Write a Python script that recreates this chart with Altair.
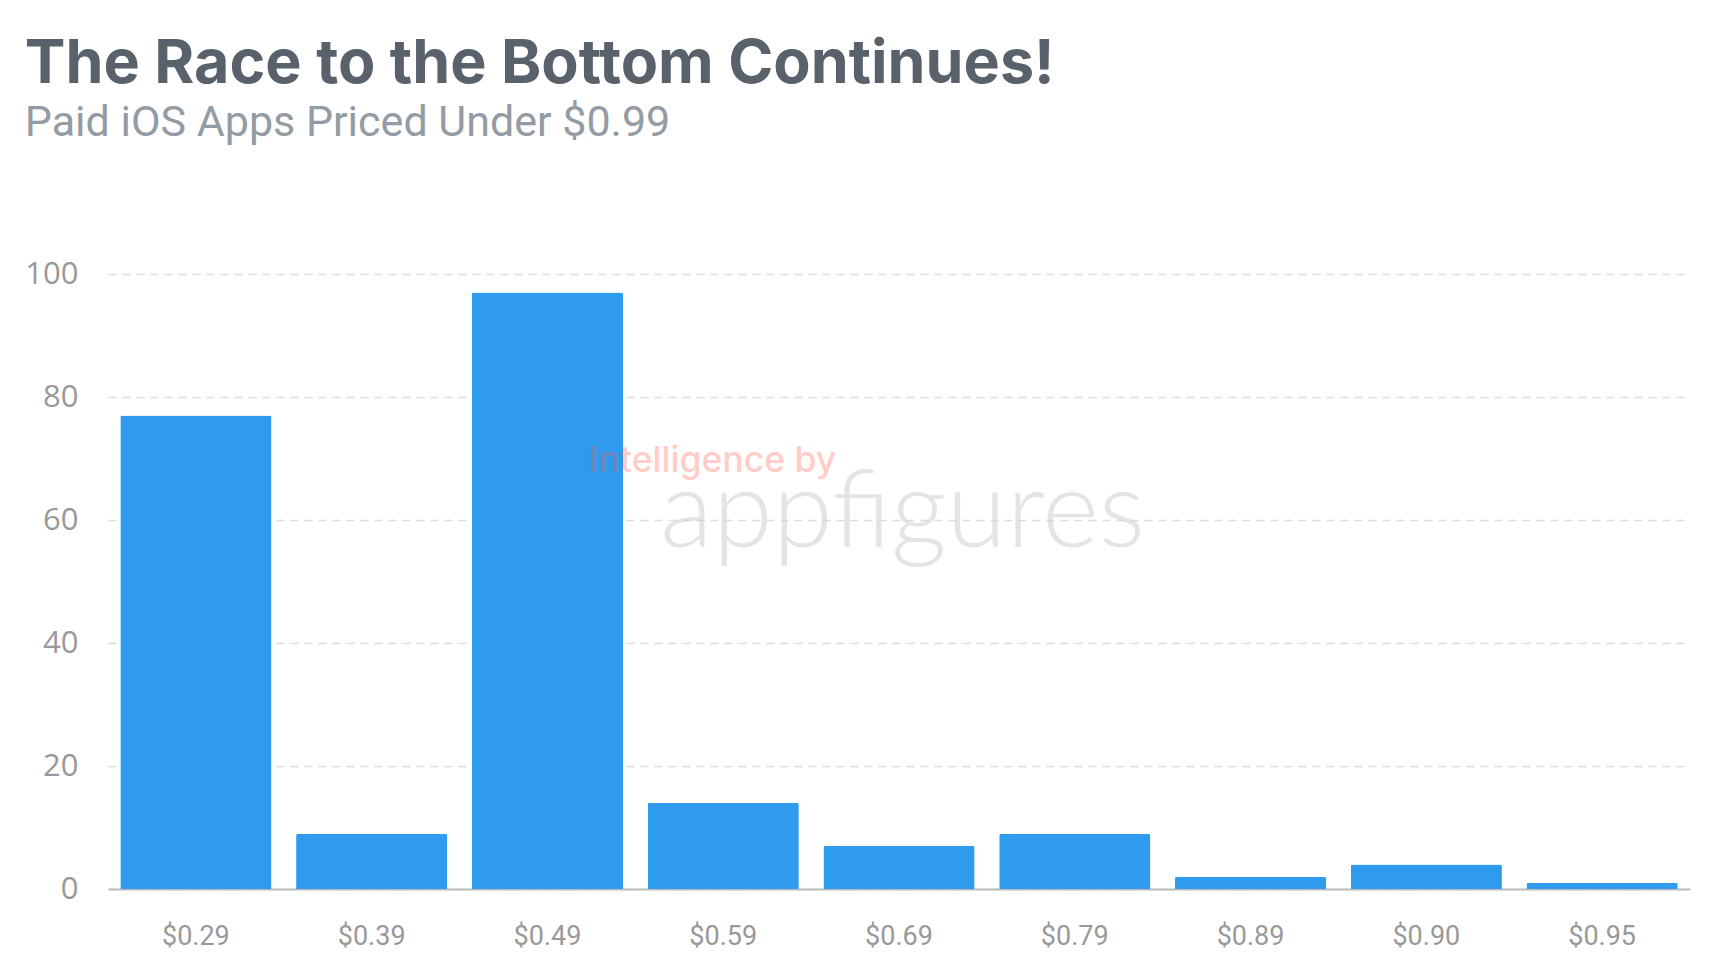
import altair as alt
import pandas as pd

prices = ["$0.29", "$0.39", "$0.49", "$0.59", "$0.69", "$0.79", "$0.89", "$0.90", "$0.95"]
counts = [77, 9, 97, 14, 7, 9, 2, 4, 1]
y_ticks = [0, 20, 40, 60, 80, 100]

title_text = "The Race to the Bottom Continues!"
subtitle_text = "Paid iOS Apps Priced Under $0.99"
wm_top = ["Intelligence by"]
wm_main = ["appfigures"]

df = pd.DataFrame({"price": prices, "apps": counts})

bars = alt.Chart(df).mark_bar(
    color="#2e9bef", cornerRadiusTopLeft=2, cornerRadiusTopRight=2
).encode(
    x=alt.X(
        "price:N", sort=prices, title=None,
        scale=alt.Scale(paddingInner=0.14, paddingOuter=0.07),
        axis=alt.Axis(
            labelAngle=0, labelFont="Roboto", labelFontSize=27, labelColor="#999999",
            labelPadding=34, ticks=False, tickSize=0, domainColor="#bbbbbb",
            domainWidth=2, grid=False,
        ),
    ),
    y=alt.Y(
        "apps:Q", title=None, scale=alt.Scale(domain=[0, 100], nice=False),
        axis=alt.Axis(
            values=y_ticks, labelFont="Open Sans", labelFontSize=31, labelColor="#999999",
            labelPadding=30, ticks=False, tickSize=0, domain=False, grid=True,
            gridDash=[8, 6], gridColor="#dddddd", gridWidth=1.5,
        ),
    ),
)

wm1 = alt.Chart(pd.DataFrame({"t": wm_top})).mark_text(
    font="Inter", fontSize=35.5, fontWeight=500, color="#ff5a4a", opacity=0.3,
    align="left", baseline="alphabetic",
).encode(x=alt.value(481), y=alt.value(198), text="t:N")

wm2 = alt.Chart(pd.DataFrame({"t": wm_main})).mark_text(
    font="Lato", fontWeight=300, fontSize=109, color="#cfcfcf", opacity=0.55,
    align="left", baseline="alphabetic",
).encode(x=alt.value(552), y=alt.value(273), text="t:N")

chart = alt.layer(bars, wm2, wm1).properties(
    width=1582, height=615,
    autosize=alt.AutoSizeParams(type="none"),
    padding={"left": 100, "top": 266, "right": 34, "bottom": 70},
    title=alt.TitleParams(
        text=title_text, subtitle=subtitle_text, anchor="start", dx=0,
        offset=112, font="Inter", fontSize=61, fontWeight="bold", color="#59616b",
        subtitleFont="Roboto", subtitleFontSize=43, subtitleColor="#939ba4",
        subtitlePadding=6,
    ),
).configure_view(stroke=None)

chart.save("out.html", embed_options={"renderer": "svg", "actions": False})
